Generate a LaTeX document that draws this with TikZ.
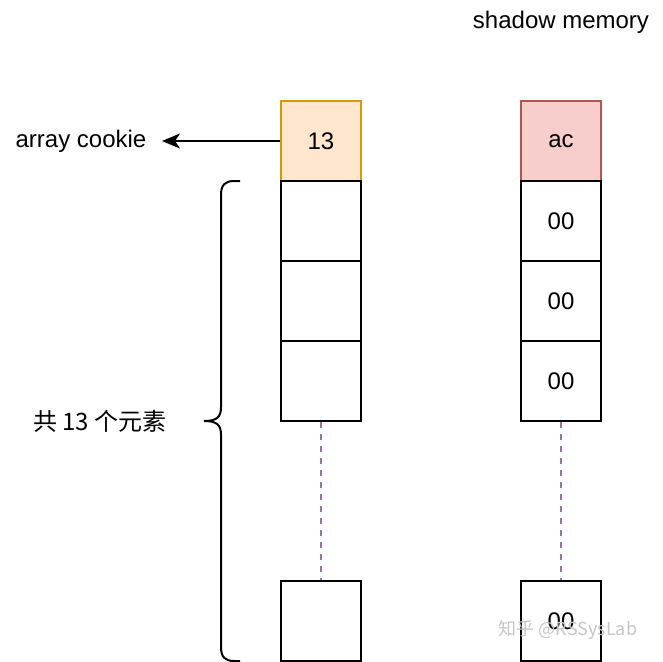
\documentclass[tikz,border=0pt]{standalone}
\usepackage{fontspec}
\setmainfont{Liberation Sans}
\newfontfamily\cjk{Noto Sans CJK SC}
\usetikzlibrary{arrows.meta}
\definecolor{cookiefill}{HTML}{FFE6CC}
\definecolor{cookieline}{HTML}{D79B00}
\definecolor{shadowfill}{HTML}{F8CECC}
\definecolor{shadowline}{HTML}{B85450}
\definecolor{gapline}{HTML}{9673A6}

\begin{document}
\begin{tikzpicture}[x=1pt,y=-1pt,
	cell/.style={draw,line width=2pt,minimum size=80pt,inner sep=0pt,font=\fontsize{24}{28}\selectfont},
	txt/.style={inner sep=0pt,font=\fontsize{24}{28}\selectfont},
	gap/.style={draw=gapline,line width=2pt,dash pattern=on 6pt off 6pt}]
	\useasboundingbox (0,0) rectangle (662,662);
	% left column
	\node[cell,fill=cookiefill,draw=cookieline] (c0) at (321,141){13};
	\node[cell] (c1) at (321,221){};
	\node[cell] (c2) at (321,301){};
	\node[cell] (c3) at (321,381){};
	\node[cell] (cn) at (321,621){};
	\draw[gap] (c3.south) -- (cn.north);
	
	% shadow column
	\node[cell,fill=shadowfill,draw=shadowline] (s0) at (561,141){ac};
	\node[cell] (s1) at (561,221){00};
	\node[cell] (s2) at (561,301){00};
	\node[cell] (s3) at (561,381){00};
	\node[cell] (sn) at (561,621){00};
	\draw[gap] (s3.south) -- (sn.north);
	
	\node[txt] (shadow) at (561,22){shadow memory};
	\node[txt] (cookie) at (81,141){array cookie};
	\coordinate (tip) at (162,141);
	\draw[line width=2pt,-{Stealth[length=18pt,width=15pt,inset=5pt]}] (c0.west) -- (tip);
	
	\draw[line width=2pt] (240,181) -- (234,181) .. controls (225,181) and (221,185) .. (221,195) -- (221,407) .. controls (221,417) and (217,421) .. (204,421) .. controls (217,421) and (221,425) .. (221,435) -- (221,647) .. controls (221,657) and (225,661) .. (234,661) -- (240,661);
	\node[txt,font=\cjk\fontsize{24}{28}\selectfont] (count) at (100,421){共 13 个元素};
	
	\node[inner sep=0pt,text=gray!45,font=\cjk\fontsize{18}{22}\selectfont] (mark) at (568,630){知乎 @RSSysLab};
\end{tikzpicture}
\end{document}
